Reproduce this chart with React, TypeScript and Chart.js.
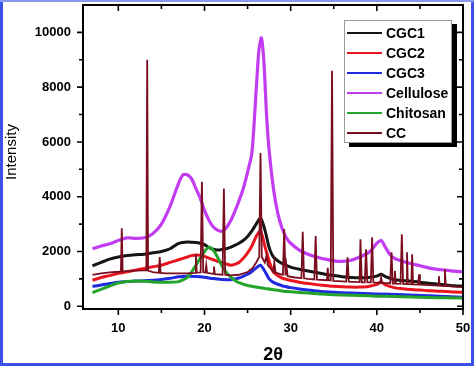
import React, { useEffect, useRef } from "react";
import { Chart, registerables } from "chart.js";

Chart.register(...registerables);

// ---------- tick labels / axes ----------
const X_TICKS = [10, 20, 30, 40, 50];
const X_MINOR = [15, 25, 35, 45];
const Y_TICKS = [0, 2000, 4000, 6000, 8000, 10000];
const Y_MINOR = [1000, 3000, 5000, 7000, 9000];
const X_TITLE = "2θ";
const Y_TITLE = "Intensity";

// ---------- series ----------
const NAMES = ["CGC1", "CGC2", "CGC3", "Cellulose", "Chitosan", "CC"];

const cgc1X = [7, 8, 9, 10, 11, 12, 13, 14, 15, 16, 17, 18, 19, 19.5, 20, 20.5, 21, 21.5, 22, 22.5, 23, 23.5, 24, 24.5, 25, 25.5, 26, 26.5, 27, 27.5, 28, 29, 30, 31, 32, 33, 34, 35, 36, 37, 38, 39, 40, 40.5, 41, 42, 43, 44, 45, 46, 47, 48, 49, 50];
const cgc1Y = [1480, 1600, 1720, 1800, 1850, 1880, 1900, 1950, 2000, 2100, 2300, 2350, 2330, 2300, 2250, 2150, 2080, 2050, 2070, 2100, 2150, 2220, 2300, 2400, 2550, 2750, 3000, 3220, 2800, 2150, 1800, 1560, 1430, 1350, 1290, 1230, 1170, 1120, 1080, 1050, 1040, 1050, 1100, 1170, 1080, 980, 940, 910, 880, 840, 810, 780, 750, 730];

const cgc2X = [7, 8, 9, 10, 11, 12, 13, 14, 15, 16, 17, 18, 18.5, 19, 19.5, 20, 20.5, 21, 21.5, 22, 22.5, 23, 23.5, 24, 24.5, 25, 25.5, 26, 26.5, 27, 27.5, 28, 28.5, 29, 29.5, 30, 31, 32, 33, 34, 35, 36, 37, 38, 39, 40, 40.5, 41, 42, 43, 44, 45, 46, 47, 48, 49, 50];
const cgc2Y = [950, 1050, 1120, 1200, 1260, 1320, 1380, 1440, 1500, 1600, 1700, 1800, 1850, 1870, 1860, 1820, 1760, 1700, 1640, 1600, 1550, 1500, 1530, 1600, 1750, 1950, 2200, 2550, 2750, 2200, 1650, 1250, 1120, 1030, 980, 940, 880, 830, 790, 760, 730, 710, 700, 700, 720, 800, 880, 780, 680, 640, 610, 590, 570, 550, 540, 520, 510];

const cgc3X = [7, 8, 9, 10, 11, 12, 13, 14, 15, 16, 17, 18, 19, 20, 21, 22, 23, 24, 25, 25.5, 26, 26.5, 27, 27.5, 28, 29, 30, 31, 32, 33, 34, 35, 37, 40, 43, 46, 50];
const cgc3Y = [720, 780, 830, 880, 900, 920, 930, 950, 980, 1020, 1080, 1100, 1090, 1060, 1010, 980, 970, 1030, 1170, 1270, 1400, 1500, 1280, 1000, 870, 750, 680, 630, 590, 560, 530, 510, 480, 450, 420, 380, 330];

const celluloseX = [7, 8, 9, 10, 11, 12, 13, 14, 15, 16, 17, 17.5, 18, 18.5, 19, 19.5, 20, 20.5, 21, 21.5, 22, 22.5, 23, 23.5, 24, 24.5, 25, 25.5, 26, 26.3, 26.6, 26.9, 27.2, 27.5, 28, 28.5, 29, 29.5, 30, 31, 32, 33, 34, 35, 36, 37, 38, 39, 39.5, 40, 40.5, 41, 41.5, 42, 43, 44, 45, 46, 47, 48, 49, 50];
const celluloseY = [2100, 2200, 2280, 2400, 2500, 2480, 2500, 2650, 3000, 3650, 4500, 4800, 4800, 4650, 4300, 3950, 3500, 3150, 2900, 2780, 2740, 2850, 3100, 3450, 3850, 4300, 4900, 5600, 7900, 9300, 9800, 8900, 7000, 5700, 4300, 3400, 2850, 2500, 2300, 2050, 1900, 1800, 1720, 1660, 1640, 1680, 1800, 1950, 2100, 2300, 2400, 2150, 1900, 1760, 1640, 1550, 1480, 1400, 1350, 1320, 1280, 1260];

const chitosanX = [7, 8, 9, 10, 11, 12, 13, 14, 15, 16, 17, 17.5, 18, 18.5, 19, 19.5, 20, 20.5, 21, 21.5, 22, 22.5, 23, 23.5, 24, 25, 26, 27, 28, 29, 30, 32, 34, 36, 38, 40, 42, 44, 46, 48, 50];
const chitosanY = [500, 620, 740, 850, 900, 920, 910, 890, 880, 880, 900, 960, 1050, 1250, 1500, 1750, 2000, 2150, 2050, 1800, 1500, 1250, 1080, 950, 860, 760, 700, 650, 600, 560, 530, 480, 440, 410, 390, 370, 360, 340, 320, 310, 300];

const ccX = [7, 8, 9, 10, 10.3, 10.4, 10.5, 11, 12, 13, 13.25, 13.35, 13.45, 14, 14.7, 14.8, 14.9, 15.5, 17, 18, 18.9, 19.0, 19.1, 19.55, 19.7, 19.85, 20.1, 20.2, 20.3, 21, 21.1, 21.2, 22.1, 22.25, 22.4, 23, 24, 25, 25.6, 26, 26.35, 26.5, 26.65, 27.0, 27.2, 27.35, 28, 28.1, 28.25, 29.1, 29.25, 29.4, 29.5, 29.65, 30.5, 31.25, 31.4, 31.55, 32.0, 32.75, 32.9, 33.05, 34.2, 34.3, 34.4, 34.65, 34.8, 34.95, 35.5, 36.45, 36.6, 36.75, 38, 38.1, 38.25, 38.6, 38.75, 38.9, 39.3, 39.45, 39.6, 40.4, 40.5, 40.6, 41.55, 41.7, 41.85, 42.0, 42.1, 42.2, 42.75, 42.9, 43.05, 43.4, 43.5, 43.6, 44.0, 44.1, 44.2, 44.8, 44.9, 45.0, 46, 47.1, 47.2, 47.3, 47.8, 47.9, 48.0, 49, 50];
const ccY = [1150, 1200, 1240, 1260, 1270, 2850, 1270, 1280, 1300, 1310, 1320, 9000, 1300, 1250, 1220, 1800, 1220, 1200, 1200, 1200, 1220, 1900, 1230, 1240, 4550, 1240, 1230, 1500, 1220, 1180, 1450, 1170, 1150, 4300, 1150, 1130, 1150, 1250, 1400, 1600, 1800, 5600, 1800, 1600, 1850, 1500, 1250, 1600, 1230, 1150, 2820, 1130, 1500, 1100, 1050, 1030, 2720, 1020, 1000, 980, 2560, 970, 950, 1400, 950, 940, 8600, 930, 920, 900, 1790, 900, 880, 2450, 870, 870, 2080, 870, 870, 2520, 870, 860, 1050, 850, 840, 1970, 830, 830, 1290, 830, 820, 2630, 820, 810, 1970, 810, 800, 1900, 800, 790, 1170, 790, 770, 750, 1100, 750, 740, 1350, 740, 720, 700];

const COLORS = ["#151515", "#e8141e", "#1f2be0", "#c23cf2", "#22a52a", "#7a0d1e"];

const zip = (xs: number[], ys: number[]) => xs.map((x, i) => ({ x, y: ys[i] }));

const SERIES = [
  zip(cgc1X, cgc1Y),
  zip(cgc2X, cgc2Y),
  zip(cgc3X, cgc3Y),
  zip(celluloseX, celluloseY),
  zip(chitosanX, chitosanY),
  zip(ccX, ccY),
];
const DRAW_ORDER = [2, 3, 4, 5, 1, 0];
const WIDTHS = [3, 3, 3, 3.2, 3, 1.8];

const FONT = '"Liberation Sans", Arial, sans-serif';

const decorPlugin = {
  id: "decor",
  beforeDraw(chart: any) {
    const { ctx, width, height } = chart;
    ctx.save();
    ctx.fillStyle = "#3a50e8";
    ctx.fillRect(0, 0, width, height);
    ctx.fillStyle = "#8a98ee";
    ctx.fillRect(0, 0, width, 2);
    ctx.fillStyle = "#ffffff";
    ctx.fillRect(3, 2, width - 6, height - 5);
    ctx.restore();
  },
  afterDraw(chart: any) {
    const { ctx, chartArea: a, scales } = chart;
    const xs = scales.x;
    const ys = scales.y;
    ctx.save();
    ctx.strokeStyle = "#000";
    ctx.lineWidth = 2;
    ctx.strokeRect(a.left, a.top, a.right - a.left, a.bottom - a.top);
    ctx.lineWidth = 1.6;
    ctx.beginPath();
    const tickX = (v: number, len: number) => {
      const p = xs.getPixelForValue(v);
      ctx.moveTo(p, a.bottom);
      ctx.lineTo(p, a.bottom + len);
      ctx.moveTo(p, a.top);
      ctx.lineTo(p, a.top + len);
    };
    const tickY = (v: number, len: number) => {
      const p = ys.getPixelForValue(v);
      ctx.moveTo(a.left, p);
      ctx.lineTo(a.left - len, p);
      ctx.moveTo(a.right, p);
      ctx.lineTo(a.right - len, p);
    };
    X_TICKS.forEach((v) => tickX(v, 6));
    X_MINOR.forEach((v) => tickX(v, 4));
    Y_TICKS.forEach((v) => tickY(v, 6));
    Y_MINOR.forEach((v) => tickY(v, 4));
    ctx.stroke();

    // axis titles
    ctx.fillStyle = "#000";
    ctx.textAlign = "center";
    ctx.textBaseline = "middle";
    ctx.font = `bold 18px ${FONT}`;
    ctx.fillText(X_TITLE, (a.left + a.right) / 2, 355);
    ctx.save();
    ctx.translate(12, 152);
    ctx.rotate(-Math.PI / 2);
    ctx.font = `15px ${FONT}`;
    ctx.fillText(Y_TITLE, 0, 0);
    ctx.restore();

    // legend
    const lx = 344, ly = 20, lw = 108, lh = 123;
    ctx.fillStyle = "#000";
    ctx.fillRect(lx + 5, ly + 4, lw, lh);
    ctx.fillStyle = "#fff";
    ctx.fillRect(lx, ly, lw, lh);
    ctx.strokeStyle = "#999";
    ctx.lineWidth = 1;
    ctx.strokeRect(lx + 0.5, ly + 0.5, lw - 1, lh - 1);
    ctx.font = `bold 14px ${FONT}`;
    ctx.textAlign = "left";
    ctx.textBaseline = "middle";
    NAMES.forEach((n, i) => {
      const y = 33 + i * 20;
      ctx.strokeStyle = COLORS[i];
      ctx.lineWidth = 2;
      ctx.beginPath();
      ctx.moveTo(347, y);
      ctx.lineTo(382, y);
      ctx.stroke();
      ctx.fillStyle = "#000";
      ctx.fillText(n, 386, y + 1);
    });
    ctx.restore();
  },
};

export default function App() {
  const ref = useRef<HTMLCanvasElement | null>(null);
  useEffect(() => {
    if (!ref.current) return;
    const chart = new Chart(ref.current, {
      type: "line",
      data: {
        datasets: SERIES.map((pts, i) => ({
          label: NAMES[i],
          data: pts,
          borderColor: COLORS[i],
          backgroundColor: COLORS[i],
          borderWidth: WIDTHS[i],
          pointRadius: 0,
          tension: i === 5 ? 0 : 0.25,
          order: DRAW_ORDER[i],
          fill: false,
        })),
      },
      options: {
        animation: false,
        responsive: false,
        maintainAspectRatio: false,
        layout: { padding: { top: 5, right: 11, left: 0, bottom: 0 } },
        plugins: { legend: { display: false }, tooltip: { enabled: false } },
        scales: {
          x: {
            type: "linear",
            min: 5.9,
            max: 50,
            grid: { display: false },
            border: { display: false },
            afterFit: (s: any) => { s.height = 57; s.paddingLeft = 0; s.paddingRight = 0; },
            afterBuildTicks: (s: any) => { s.ticks = X_TICKS.map((v) => ({ value: v })); },
            ticks: { color: "#000", font: { family: FONT, size: 13, weight: "bold" }, padding: 4, maxRotation: 0 },
          },
          y: {
            type: "linear",
            min: -100,
            max: 11000,
            grid: { display: false },
            border: { display: false },
            afterFit: (s: any) => { s.width = 83; s.paddingTop = 0; s.paddingBottom = 0; },
            afterBuildTicks: (s: any) => { s.ticks = Y_TICKS.map((v) => ({ value: v })); },
            ticks: { color: "#000", font: { family: FONT, size: 13, weight: "bold" }, padding: 4, callback: (v: any) => String(v) },
          },
        },
      },
      plugins: [decorPlugin],
    });
    return () => chart.destroy();
  }, []);
  return (
    <div style={{ position: "absolute", left: 0, top: 0, width: 474, height: 366 }}>
      <canvas ref={ref} width={474} height={366} style={{ display: "block" }} />
    </div>
  );
}
